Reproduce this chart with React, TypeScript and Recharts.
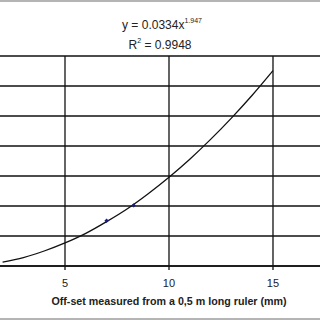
import React from "react";
import { ComposedChart, Line, Scatter, XAxis, YAxis, CartesianGrid } from "recharts";

const curveX = [2, 3, 4, 5, 6, 7, 8, 9, 10, 11, 12, 13, 14, 15];
const curveY = [0.13, 0.28, 0.5, 0.77, 1.09, 1.48, 1.91, 2.41, 2.96, 3.56, 4.22, 4.93, 5.69, 6.51];
const pointX = [7.0, 8.3];
const pointY = [1.51, 2.02];
const xTicks = [5, 10, 15];
const yTicks = [0, 1, 2, 3, 4, 5, 6, 7];

const curveData = curveX.map((x, i) => ({ x, y: curveY[i] }));
const pointData = pointX.map((x, i) => ({ x, y: pointY[i] }));

const font = "'Liberation Sans', Arial, sans-serif";

const Diamond = (props: any) => {
  const { cx, cy } = props;
  const r = 2.2;
  return <polygon points={`${cx},${cy - r} ${cx + r},${cy} ${cx},${cy + r} ${cx - r},${cy}`} fill="#1a1a80" />;
};

export default function App() {
  return (
    <div style={{ position: "absolute", left: 0, top: 0, width: 320, height: 320, background: "#fff", overflow: "hidden", fontFamily: font }}>
      <div style={{ position: "absolute", left: 0, top: 0, width: 320, height: 2, background: "#b4b4b4" }} />
      <div style={{ position: "absolute", left: 0, top: 318, width: 320, height: 2, background: "#b4b4b4" }} />
      <ComposedChart
        width={320}
        height={320}
        margin={{ top: 56, right: 0, bottom: 0, left: 0 }}
        style={{ position: "absolute", left: 0, top: 0 }}
      >
        <CartesianGrid stroke="#111" strokeWidth={1.3} horizontalValues={yTicks} verticalValues={xTicks} />
        <XAxis
          type="number"
          dataKey="x"
          domain={[1.875, 17.26]}
          ticks={xTicks}
          interval={0}
          allowDataOverflow
          tick={{ fill: "#222", fontSize: 11, fontFamily: font }}
          tickSize={4}
          tickMargin={9}
          stroke="#111"
          strokeWidth={1.3}
          height={54}
        />
        <YAxis type="number" dataKey="y" domain={[0, 7]} ticks={yTicks} interval={0} hide width={0} allowDataOverflow />
        <Line
          data={curveData}
          dataKey="y"
          type="monotone"
          stroke="#111"
          strokeWidth={1.3}
          dot={false}
          isAnimationActive={false}
        />
        <Scatter data={pointData} dataKey="y" fill="#1a1a80" shape={<Diamond />} isAnimationActive={false} />
      </ComposedChart>
      <div style={{ position: "absolute", left: 0, width: 320, top: 13, textAlign: "center", fontSize: 12, color: "#222", lineHeight: "15px" }}>
        <div style={{ paddingLeft: 4 }}>
          y = 0.0334x<sup style={{ fontSize: 7, verticalAlign: "6px" }}>1.947</sup>
        </div>
        <div>
          R<sup style={{ fontSize: 7, verticalAlign: "6px" }}>2</sup> = 0.9948
        </div>
      </div>
      <div style={{ position: "absolute", left: 0, width: 338, top: 295, textAlign: "center", fontSize: 10.7, fontWeight: "bold", color: "#222" }}>
        Off-set measured from a 0,5 m long ruler (mm)
      </div>
    </div>
  );
}
